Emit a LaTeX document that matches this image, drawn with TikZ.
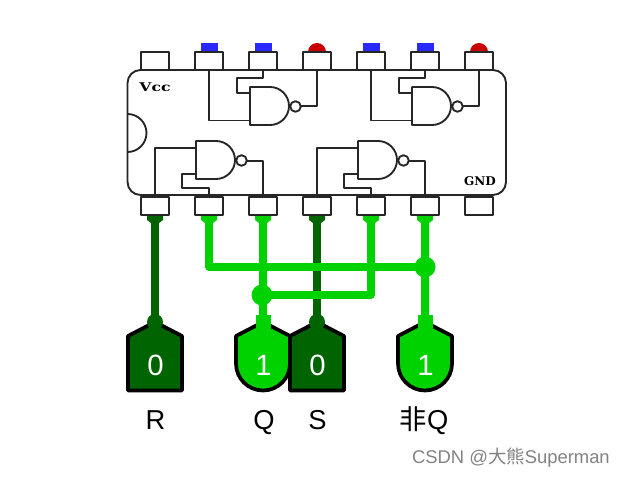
\documentclass[tikz,border=0pt]{standalone}
\usepackage{fontspec}
\setmainfont{Liberation Sans}
\newfontfamily\cjkfont{Noto Sans CJK SC}
\newfontfamily\chipfont{DejaVu Serif}
\definecolor{wireon}{RGB}{0,210,0}
\definecolor{wireoff}{RGB}{0,100,0}
\definecolor{pinblue}{RGB}{40,40,255}
\definecolor{pinred}{RGB}{200,0,0}
\definecolor{marktext}{RGB}{130,130,130}
\tikzset{
  chipline/.style={draw=black!85,line width=1.4pt,line join=round},
  wire/.style={line width=5.6pt},
  ioline/.style={draw=black,line width=2.8pt,line join=round},
  caption/.style={font=\fontsize{20.5}{22}\selectfont,inner sep=0pt,anchor=base},
  digit/.style={font=\fontsize{22}{24}\selectfont,text=white,inner sep=0pt,anchor=base},
  chipname/.style={font=\chipfont\bfseries\fontsize{9}{10}\selectfont,inner sep=0pt},
}
% one pin of the chip
\newcommand{\chippin}[2]{\draw[chipline,fill=white] (#1-14,#2) rectangle ++(28,18);}
% gate: left edge x, top y
\newcommand{\nandgate}[2]{
  \draw[chipline,fill=white] (#1,#2) -- ++(20,0) arc[start angle=-90,end angle=90,radius=19] -- ++(-20,0) -- cycle;
  \draw[chipline,fill=white] (#1+45.5,#2+19.5) circle (5.3);
}
\begin{document}
\begin{tikzpicture}[x=0.75pt,y=-0.75pt]
\useasboundingbox (0,0) rectangle (625,477);
% caps of the top pins
\foreach \x in {209,263,371,425} \fill[pinblue] (\x-8.5,43) rectangle (\x+8.5,53);
\foreach \x in {317,479} \fill[pinred] (\x-9,52) arc[start angle=180,end angle=360,radius=9] -- cycle;
% stubs under the bottom pins
\foreach \x in {155,317} \fill[wireoff] (\x-8,215) -- (\x+8,215) -- (\x+8,220) -- (\x+4,223) -- (\x-4,223) -- (\x-8,220) -- cycle;
\foreach \x in {209,263,371,425} \fill[wireon] (\x-8,215) -- (\x+8,215) -- (\x+8,220) -- (\x+4,223) -- (\x-4,223) -- (\x-8,220) -- cycle;
% pins
\foreach \x in {155,209,...,479} {
  \chippin{\x}{52}
  \chippin{\x}{197}
}
% body
\draw[chipline,fill=white] (127.5,83) arc[start angle=180,end angle=270,radius=13] -- (493,70) arc[start angle=270,end angle=360,radius=13] -- (506,182) arc[start angle=0,end angle=90,radius=13] -- (140.5,195) arc[start angle=90,end angle=180,radius=13] -- cycle;
\draw[chipline] (127.5,114) arc[start angle=-90,end angle=90,radius=19];
\node[chipname,xscale=1.3] (vcc) at (155,87) {Vcc};
\node[chipname] (gnd) at (480,181) {GND};
% inside wiring
\draw[chipline] (209,70) |- (250,120.5);
\draw[chipline] (263,70) -- (263,78) -- (237,78) -- (237,93) -- (250,93);
\draw[chipline] (301,106) -- (317,106) -- (317,70);
\draw[chipline] (371,70) |- (412,120.5);
\draw[chipline] (425,70) -- (425,78) -- (399,78) -- (399,93) -- (412,93);
\draw[chipline] (463,106) -- (479,106) -- (479,70);
\draw[chipline] (155,195) |- (196,148);
\draw[chipline] (209,195) -- (209,188) -- (182,188) -- (182,174) -- (196,174);
\draw[chipline] (247,161) -- (263,161) -- (263,195);
\draw[chipline] (317,195) |- (358,148);
\draw[chipline] (371,195) -- (371,188) -- (344,188) -- (344,174) -- (358,174);
\draw[chipline] (409,161) -- (425,161) -- (425,195);
\nandgate{250}{87}
\nandgate{412}{87}
\nandgate{196}{141}
\nandgate{358}{141}
% wires
\coordinate (pinr) at (155,216);
\coordinate (pinq) at (209,216);
\coordinate (pinoutq) at (263,216);
\coordinate (pins) at (317,216);
\coordinate (pinb) at (371,216);
\coordinate (pinn) at (425,216);
\coordinate (dotn) at (425,267);
\coordinate (dotq) at (262,295);
\draw[wire,wireoff] (pinr) -- (155,330);
\draw[wire,wireoff] (pins) -- (317,330);
\draw[wire,wireon,line join=round] (pinq) |- (dotn);
\draw[wire,wireon,line join=round] (pinb) |- (dotq);
\draw[wire,wireon] (pinoutq) -- (263,330);
\draw[wire,wireon] (pinn) -- (425,330);
\fill[wireon] (dotn) circle (10.5);
\fill[wireon] (dotq) circle (10.5);
% outputs
\draw[ioline,fill=wireon] (263,322) -- (290,336) -- (290,363.5) arc[start angle=0,end angle=180,radius=27] -- (236,336) -- cycle;
\draw[ioline,fill=wireon] (425,322) -- (452,336) -- (452,363.5) arc[start angle=0,end angle=180,radius=27] -- (398,336) -- cycle;
% inputs
\draw[ioline,fill=wireoff] (155,322) -- (182,336) -- (182,390.5) -- (128,390.5) -- (128,336) -- cycle;
\draw[ioline,fill=wireoff] (317,322) -- (344,336) -- (344,390.5) -- (290,390.5) -- (290,336) -- cycle;
\fill[wireoff] (155,322) circle (8);
\fill[wireoff] (317,322) circle (8);
\fill[wireon] (255.5,315) rectangle (270.5,328);
\fill[wireon] (417.5,315) rectangle (432.5,328);
\node[digit] (valr) at (155.5,375.5) {0};
\node[digit] (valq) at (263.5,375.5) {1};
\node[digit] (vals) at (317.5,375.5) {0};
\node[digit] (valn) at (425.5,375.5) {1};
\node[caption] (namer) at (155.5,429) {R};
\node[caption] (nameq) at (264,429) {Q};
\node[caption] (names) at (317.5,429) {S};
\node[caption] (namen) at (424,429) {{\cjkfont 非}Q};
\node[font=\fontsize{13.8}{15}\selectfont,text=marktext,anchor=base east,inner sep=0pt] (mark) at (610,463) {CSDN @{\cjkfont 大熊}Superman};
\end{tikzpicture}
\end{document}
